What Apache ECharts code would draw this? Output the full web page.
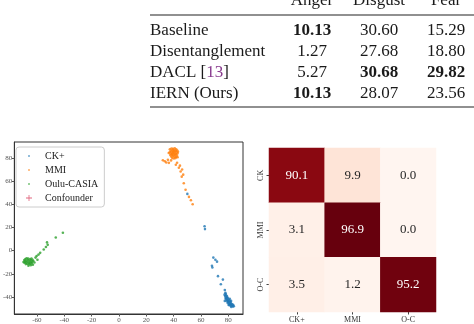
<!DOCTYPE html>
<html>
<head>
<meta charset="utf-8">
<script src="https://cdn.jsdelivr.net/npm/echarts@6/dist/echarts.min.js"></script>
<style>
  html, body { margin: 0; padding: 0; background: #fff; }
  #chart { width: 474px; height: 324px; }
</style>
</head>
<body>
<div id="chart"></div>
<script>
// ---- Table: per-emotion accuracy (%) ----
const methods = ['Baseline', 'Disentanglement', 'DACL [13]', 'IERN (Ours)'];
const emotions = ['Anger', 'Disgust', 'Fear'];
const angerAcc = [10.13, 1.27, 5.27, 10.13];
const disgustAcc = [30.60, 27.68, 30.68, 28.07];
const fearAcc = [15.29, 18.80, 29.82, 23.56];

// ---- t-SNE embedding of dataset features ----
const ckPoints = [
  [50.0, 49.0], [62.6, 21.0], [62.9, 18.6], [69.0, -6.0], [70.5, -7.8], [71.7, -9.5],
  [68.0, -13.0], [68.3, -14.6], [72.4, -22.0], [76.0, -25.0], [74.5, -29.0],
  [77.4, -34.0], [77.8, -36.5], [77.2, -38.0],
  [77.6, -39.2], [78.4, -38.6], [77.9, -40.8], [78.8, -40.3], [79.6, -41.0], [78.3, -42.1],
  [79.2, -42.6], [80.1, -42.3], [80.9, -43.0], [78.9, -43.7], [79.8, -44.1], [80.6, -44.6],
  [81.5, -44.3], [79.5, -45.2], [80.4, -45.8], [81.3, -46.2], [82.2, -45.9], [80.9, -47.1],
  [81.8, -47.5], [82.7, -47.3], [83.3, -48.2], [82.1, -48.6], [83.6, -46.9], [81.0, -41.6],
  [82.0, -43.4], [78.1, -37.2], [79.0, -39.5], [77.4, -43.4], [80.2, -46.9], [84.0, -48.0],
  [79.9, -43.3], [81.6, -45.2], [82.9, -46.4], [78.6, -41.2]
];
const mmiPoints = [
  [37.2, 87.6], [38.4, 88.1], [39.5, 87.9], [40.8, 88.3], [41.9, 87.4], [37.8, 86.2],
  [39.1, 86.6], [40.3, 86.9], [41.5, 86.1], [42.6, 86.5], [37.1, 85.0], [38.3, 85.4],
  [39.6, 85.2], [40.9, 85.6], [42.1, 84.8], [38.0, 83.9], [39.3, 84.1], [40.5, 83.7],
  [41.7, 83.5], [42.8, 83.9], [37.5, 82.6], [38.8, 82.8], [40.1, 82.3], [41.2, 82.6],
  [42.4, 82.1], [38.2, 81.2], [39.4, 81.5], [40.7, 81.0], [41.9, 80.8], [39.0, 79.9],
  [40.2, 79.6], [41.4, 79.9], [42.9, 80.6], [36.4, 84.3], [43.2, 85.3], [39.8, 86.0],
  [40.6, 84.6], [38.9, 83.3],
  [32.1, 78.0], [33.5, 77.2], [34.6, 76.1], [35.8, 78.4], [36.5, 75.8], [38.1, 77.9],
  [41.6, 74.2], [42.5, 75.9], [43.8, 71.6], [44.6, 73.4], [45.1, 68.3], [46.2, 70.1],
  [47.0, 65.6], [45.9, 63.9], [47.4, 58.2], [48.7, 52.6], [51.2, 46.4], [53.9, 40.1],
  [52.6, 43.5]
];
const ouluPoints = [
  [-69.2, -8.1], [-68.4, -7.2], [-67.5, -6.6], [-66.3, -6.9], [-65.1, -7.4], [-64.0, -6.8],
  [-68.8, -9.3], [-67.7, -8.6], [-66.6, -8.2], [-65.4, -8.9], [-64.3, -8.3], [-63.2, -7.9],
  [-69.0, -10.5], [-67.9, -10.1], [-66.8, -9.8], [-65.7, -10.4], [-64.6, -10.0], [-63.5, -9.6],
  [-62.6, -8.9], [-68.1, -11.6], [-67.0, -11.3], [-65.9, -11.8], [-64.8, -11.2], [-63.7, -11.0],
  [-66.2, -13.0], [-64.5, -12.6], [-62.9, -12.2], [-69.8, -9.9], [-61.8, -10.3],
  [-61.0, -6.0], [-60.2, -4.6], [-58.8, -3.4], [-57.6, -1.9], [-55.0, 1.0], [-53.4, 3.2],
  [-52.1, 5.0], [-52.6, 7.1], [-46.2, 11.3], [-41.0, 15.5], [-59.6, -7.8]
];
const confounderPoints = [];
const xTicks = [-60, -40, -20, 0, 20, 40, 60, 80];
const yTicks = [-40, -20, 0, 20, 40, 60, 80];

// ---- Confusion matrix (%) ----
const cmRows = ['CK', 'MMI', 'O-C'];
const cmCols = ['CK+', 'MMI', 'O-C'];
const cmValues = [
  [90.1, 9.9, 0.0],
  [3.1, 96.9, 0.0],
  [3.5, 1.2, 95.2]
];

const SERIF = '"Liberation Serif", "DejaVu Serif", serif';
const INK = '#1a1a1a';

// table text built as graphic elements
const colX = [312, 379, 446];
const rowY = [30.3, 51.3, 72.3, 93.3];
const columns = [angerAcc, disgustAcc, fearAcc];
const graphics = [
  { type: 'line', shape: { x1: 150, y1: 15, x2: 474, y2: 15 }, style: { stroke: '#222', lineWidth: 1.2 } },
  { type: 'line', shape: { x1: 150, y1: 107, x2: 474, y2: 107 }, style: { stroke: '#222', lineWidth: 1.2 } }
];
emotions.forEach((e, j) => {
  graphics.push({ type: 'text', x: colX[j], y: 0.3,
    style: { text: e, fontFamily: SERIF, fontSize: 17, fill: INK, align: 'center', verticalAlign: 'middle' } });
});
methods.forEach((m, i) => {
  const refMatch = m.match(/^(.*\[)(\d+)(\])$/);
  const style = { fontFamily: SERIF, fontSize: 17, fill: INK, align: 'left', verticalAlign: 'middle' };
  if (refMatch) {
    style.text = '{a|' + refMatch[1] + '}{b|' + refMatch[2] + '}{a|' + refMatch[3] + '}';
    style.rich = {
      a: { fontFamily: SERIF, fontSize: 17, fill: INK },
      b: { fontFamily: SERIF, fontSize: 17, fill: '#8a3d8f' }
    };
  } else {
    style.text = m;
  }
  graphics.push({ type: 'text', x: 150, y: rowY[i], style });
  columns.forEach((col, j) => {
    const best = Math.max(...col);
    graphics.push({ type: 'text', x: colX[j], y: rowY[i],
      style: { text: col[i].toFixed(2), fontFamily: SERIF, fontSize: 17,
        fontWeight: col[i] === best ? 'bold' : 'normal', fill: INK,
        align: 'center', verticalAlign: 'middle' } });
  });
});

const dotIcon = 'path://M0 0M6 6M2.2 2.2h1.6v1.6h-1.6z';
const plusIcon = 'path://M2.6 0h0.8v6h-0.8zM0 2.6h6v0.8h-6z';

const heatData = [];
cmValues.forEach((row, r) => row.forEach((v, c) => {
  heatData.push({ value: [c, r, v], label: { color: v > 50 ? '#ffffff' : '#262626' } });
}));

const tickLabel = { fontFamily: SERIF, fontSize: 7, color: '#555' };

const option = {
  animation: false,
  backgroundColor: '#fff',
  graphic: graphics,
  grid: [
    { left: 10, top: 142, width: 233, height: 172, show: true, borderColor: '#333', borderWidth: 1 },
    { left: 269, top: 148, width: 167, height: 165 }
  ],
  xAxis: [
    { gridIndex: 0, type: 'value', min: -76.5, max: 90.7,
      axisLine: { show: true, onZero: false, lineStyle: { color: '#333' } },
      splitLine: { show: false },
      axisTick: { show: true, customValues: xTicks, length: 2.5, lineStyle: { color: '#555' } },
      axisLabel: Object.assign({ customValues: xTicks, margin: 3 }, tickLabel) },
    { gridIndex: 1, type: 'category', data: cmCols,
      axisLine: { show: false }, splitLine: { show: false },
      axisTick: { show: true, alignWithLabel: true, length: 2.5, lineStyle: { color: '#444' } },
      axisLabel: { fontFamily: SERIF, fontSize: 8, color: '#333', margin: 4 } }
  ],
  yAxis: [
    { gridIndex: 0, type: 'value', min: -54.7, max: 93.8,
      axisLine: { show: true, onZero: false, lineStyle: { color: '#333' } },
      splitLine: { show: false },
      axisTick: { show: true, customValues: yTicks, length: 2.5, lineStyle: { color: '#555' } },
      axisLabel: Object.assign({ customValues: yTicks, margin: 2 }, tickLabel) },
    { gridIndex: 1, type: 'category', data: cmRows, inverse: true,
      axisLine: { show: false }, splitLine: { show: false },
      axisTick: { show: true, alignWithLabel: true, length: 2.5, lineStyle: { color: '#444' } },
      axisLabel: { fontFamily: SERIF, fontSize: 8, color: '#333', margin: 4, rotate: 90 } }
  ],
  legend: {
    data: [
      { name: 'CK+', icon: dotIcon },
      { name: 'MMI', icon: dotIcon },
      { name: 'Oulu-CASIA', icon: dotIcon },
      { name: 'Confounder', icon: plusIcon }
    ],
    left: 16, top: 147, orient: 'vertical',
    itemWidth: 6, itemHeight: 6, itemGap: 0,
    padding: [2, 6, 2, 10],
    borderColor: '#cccccc', borderWidth: 1, borderRadius: 3,
    backgroundColor: '#ffffff',
    textStyle: { fontFamily: SERIF, fontSize: 10, color: '#222', lineHeight: 14, padding: [0, 0, 0, 8] }
  },
  visualMap: {
    show: false, seriesIndex: 4, dimension: 2, min: 0, max: 96.9,
    inRange: { color: ['#fff5f0', '#fee0d2', '#fcbba1', '#fc9272', '#fb6a4a', '#ef3b2c', '#cb181d', '#a50f15', '#67000d'] }
  },
  series: [
    { name: 'CK+', type: 'scatter', xAxisIndex: 0, yAxisIndex: 0, data: ckPoints,
      symbolSize: 2.6, itemStyle: { color: '#1f77b4' } },
    { name: 'MMI', type: 'scatter', xAxisIndex: 0, yAxisIndex: 0, data: mmiPoints,
      symbolSize: 2.6, itemStyle: { color: '#ff7f0e' } },
    { name: 'Oulu-CASIA', type: 'scatter', xAxisIndex: 0, yAxisIndex: 0, data: ouluPoints,
      symbolSize: 2.6, itemStyle: { color: '#2ca02c' } },
    { name: 'Confounder', type: 'scatter', xAxisIndex: 0, yAxisIndex: 0, data: confounderPoints,
      symbol: plusIcon, symbolSize: 6, itemStyle: { color: '#d8405e' } },
    { name: 'Confusion', type: 'heatmap', xAxisIndex: 1, yAxisIndex: 1, data: heatData,
      label: { show: true, fontFamily: SERIF, fontSize: 13,
        formatter: p => p.value[2].toFixed(1) },
      emphasis: { disabled: true } }
  ]
};

const chart = echarts.init(document.getElementById('chart'), null, { renderer: 'canvas' });
chart.setOption(option);
</script>
</body>
</html>
